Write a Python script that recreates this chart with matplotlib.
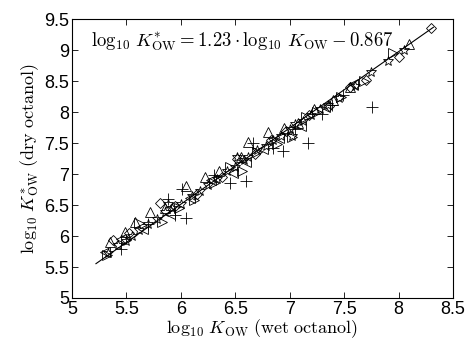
import matplotlib
matplotlib.use('Agg')
import matplotlib.pyplot as plt
import numpy as np

plt.rcParams['mathtext.fontset'] = 'cm'
plt.rcParams['font.family'] = ['Liberation Sans', 'DejaVu Sans']

# fitted relation
slope = 1.23
icept = -0.867
fit_x = [5.22, 8.32]

# measured points, one list per marker type (x = wet, y = dry)
plus_x = [5.45, 5.88, 5.95, 6.05, 6.01, 6.45, 6.6, 6.66, 6.94, 7.17, 7.3, 7.39, 7.49, 7.76, 6.3, 6.85, 7.05, 5.7]
plus_y = [5.79, 6.60, 6.34, 6.29, 6.76, 6.85, 6.89, 7.50, 7.37, 7.50, 7.97, 8.11, 8.27, 8.08, 6.98, 7.42, 7.72, 6.19]

star_x = [5.33, 5.42, 5.50, 5.55, 5.62, 5.70, 5.78, 5.85, 5.92, 6.00, 6.10, 6.18, 6.25, 6.33, 6.42, 6.50, 6.58, 6.62,
          6.70, 6.78, 6.85, 6.92, 7.00, 7.05, 7.12, 7.20, 7.28, 7.35, 7.45, 7.60, 7.75, 7.90, 8.05, 5.88, 6.52, 7.02]
star_y = [5.72, 5.85, 5.92, 6.00, 6.10, 6.20, 6.28, 6.38, 6.45, 6.52, 6.65, 6.73, 6.82, 6.92, 7.05, 7.12, 7.22, 7.28,
          7.38, 7.45, 7.55, 7.62, 7.72, 7.80, 7.85, 7.95, 8.05, 8.12, 8.22, 8.42, 8.65, 8.82, 9.00, 6.52, 7.28, 7.62]

tri_up_x = [5.35, 5.49, 5.58, 5.72, 5.85, 6.05, 6.22, 6.35, 6.55, 6.62, 6.80, 6.95, 7.08, 7.22, 7.40, 7.55, 8.10]
tri_up_y = [5.90, 6.06, 6.23, 6.39, 6.45, 6.80, 6.95, 7.05, 7.28, 7.52, 7.68, 7.75, 7.82, 8.05, 8.20, 8.40, 9.10]

tri_r_x = [5.32, 5.50, 5.62, 5.83, 5.98, 6.12, 6.30, 6.45, 6.56, 6.70, 6.88, 7.02, 7.15, 7.25, 7.47, 7.68, 7.95]
tri_r_y = [5.70, 5.94, 6.21, 6.23, 6.45, 6.58, 6.85, 7.12, 7.05, 7.35, 7.48, 7.60, 7.92, 8.00, 8.25, 8.50, 8.95]

tri_l_x = [5.30, 5.45, 5.65, 5.90, 6.08, 6.28, 6.48, 6.60, 6.75, 6.90, 7.10, 7.32, 7.58]
tri_l_y = [5.74, 5.95, 6.12, 6.35, 6.62, 6.90, 7.02, 7.20, 7.40, 7.58, 7.78, 8.08, 8.45]

dia_x = [5.38, 5.52, 5.81, 5.95, 6.15, 6.38, 6.52, 6.68, 6.83, 6.97, 7.18, 7.36, 7.55, 7.70, 8.00, 8.30]
dia_y = [5.94, 6.05, 6.53, 6.48, 6.68, 6.95, 7.25, 7.32, 7.55, 7.70, 7.95, 8.10, 8.40, 8.52, 8.88, 9.35]

fig = plt.figure(figsize=(4.74, 3.51), dpi=100)
ax = fig.add_axes([72/474, 1 - 298/351, (453-72)/474, (298-19)/351])

fx = np.array(fit_x)
ax.plot(fx, slope*fx + icept, 'k-', lw=0.8)

mk = dict(linestyle='none', color='k', mfc='none', mew=0.6)
ax.plot(plus_x, plus_y, marker='+', ms=8, **mk)
ax.plot(star_x, star_y, marker='*', ms=7, **mk)
ax.plot(tri_up_x, tri_up_y, marker='^', ms=7, **mk)
ax.plot(tri_r_x, tri_r_y, marker='>', ms=7, **mk)
ax.plot(tri_l_x, tri_l_y, marker='<', ms=7, **mk)
ax.plot(dia_x, dia_y, marker='D', ms=5, **mk)

ax.text(5.17, 9.13, r'$\log_{10}\,K^{*}_{\rm OW} = 1.23\cdot\log_{10}\,K_{\rm OW} - 0.867$',
        fontsize=13.5, va='center', ha='left')

ax.set_xlim(5, 8.5)
ax.set_ylim(5, 9.5)
ax.set_xticks(np.arange(5, 8.51, 0.5))
ax.set_yticks(np.arange(5, 9.51, 0.5))
ax.set_xticklabels(['5', '5.5', '6', '6.5', '7', '7.5', '8', '8.5'])
ax.set_yticklabels(['5', '5.5', '6', '6.5', '7', '7.5', '8', '8.5', '9', '9.5'])
ax.tick_params(direction='in', top=True, right=True, labelsize=13, length=4, width=0.6, pad=2)
for s in ax.spines.values():
    s.set_linewidth(0.8)

ax.set_xlabel(r'$\log_{10}\,K_{\rm OW}\ \mathrm{(wet\ octanol)}$', fontsize=13, labelpad=0)
ax.set_ylabel(r'$\log_{10}\,K^{*}_{\rm OW}\ \mathrm{(dry\ octanol)}$', fontsize=13, labelpad=2)

fig.savefig('out.png', dpi=100)
